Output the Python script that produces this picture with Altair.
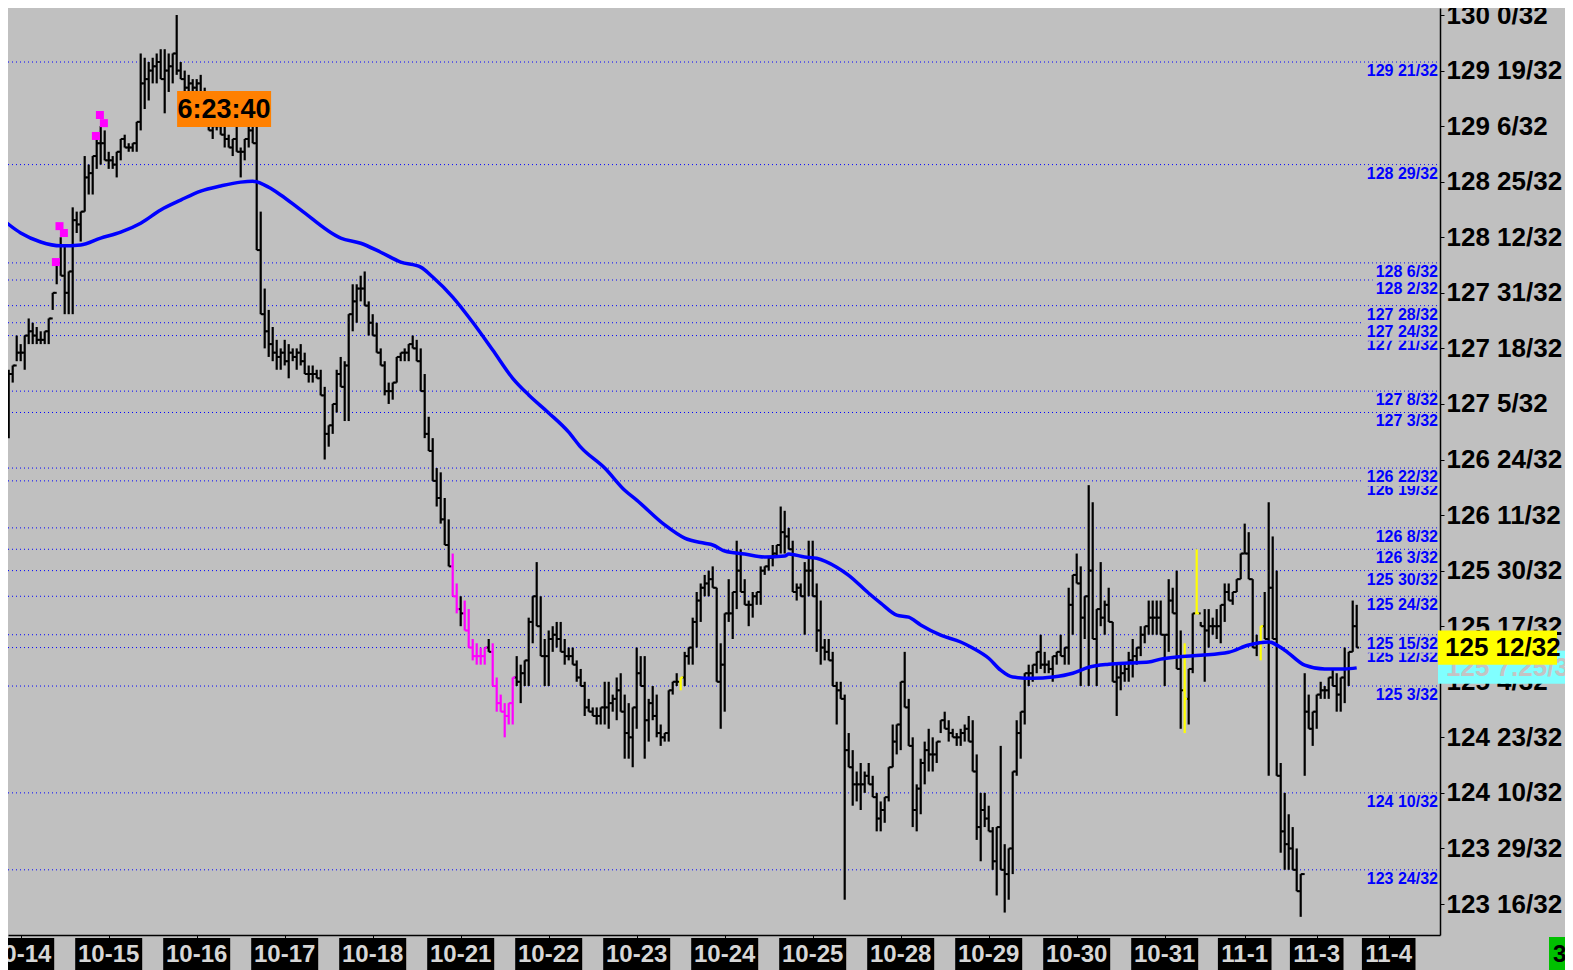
import altair as alt
import pandas as pd

# Prices are stored in 1/32nds above BASE (e.g. 76 -> 125 12/32)
BASE = 123

HIGH = [
    130, 129, 141, 142, 149, 147, 149, 153, 152, 151,
    150, 150, 153, 159, 166, 172, 170, 164, 179, 178,
    178, 191, 189, 191, 196, 198, 197, 192, 191, 192,
    195, 196, 194, 194, 199, 215, 214, 213, 214, 215,
    216, 216, 215, 215, 224, 213, 211, 210, 209, 209,
    210, 207, 205, 199, 200, 199, 198, 196, 195, 199,
    193, 195, 198, 199, 199, 178, 160, 155, 151, 148,
    146, 148, 147, 146, 146, 147, 145, 142, 142, 141,
    141, 137, 128, 133, 141, 144, 143, 154, 161, 161,
    163, 164, 157, 154, 152, 146, 143, 138, 138, 144,
    145, 146, 147, 149, 148, 146, 140, 130, 125, 118,
    117, 111, 106, 98, 91, 88, 87, 85, 78, 77,
    76, 76, 78, 77, 69, 65, 63, 63, 69, 74,
    72, 73, 83, 88, 96, 88, 78, 80, 81, 82,
    82, 78, 76, 76, 73, 71, 68, 64, 62, 62,
    62, 68, 68, 65, 69, 70, 65, 63, 62, 76,
    74, 74, 64, 67, 65, 58, 56, 66, 68, 70,
    69, 75, 76, 83, 89, 91, 93, 94, 95, 90,
    77, 84, 92, 89, 101, 99, 92, 87, 89, 89,
    95, 95, 97, 100, 100, 109, 108, 104, 101, 91,
    91, 96, 101, 101, 91, 87, 78, 78, 75, 68,
    68, 65, 56, 52, 47, 49, 47, 49, 46, 42,
    40, 41, 48, 58, 58, 68, 75, 64, 55, 44,
    50, 54, 57, 55, 54, 59, 61, 59, 57, 56,
    57, 58, 60, 59, 51, 42, 42, 39, 34, 34,
    53, 30, 29, 47, 59, 61, 70, 72, 72, 75,
    79, 75, 73, 74, 75, 79, 76, 90, 93, 98,
    95, 88, 114, 110, 85, 96, 87, 90, 82, 72,
    72, 72, 75, 78, 76, 81, 81, 87, 87, 87,
    87, 79, 92, 90, 94, 80, 77, 71, 84, 99,
    82, 85, 85, 83, 85, 86, 91, 91, 89, 92,
    98, 105, 103, 92, 79, 81, 89, 110, 102, 94,
    49, 42, 37, 34, 29, 23, 70, 65, 61, 65,
    68, 67, 69, 71, 70, 69, 76, 75, 87, 86,
]
LOW = [
    125, 127, 125, 138, 143, 143, 141, 147, 147, 147,
    147, 147, 147, 155, 161, 163, 154, 154, 154, 173,
    171, 178, 182, 182, 188, 189, 190, 188, 188, 186,
    190, 193, 192, 192, 192, 197, 202, 204, 208, 208,
    209, 201, 206, 208, 210, 209, 206, 204, 206, 205,
    205, 202, 197, 195, 197, 196, 193, 193, 191, 192,
    186, 190, 193, 194, 169, 154, 146, 144, 143, 141,
    141, 142, 139, 143, 141, 142, 140, 138, 138, 139,
    135, 120, 123, 126, 131, 137, 129, 129, 150, 152,
    157, 156, 149, 149, 145, 142, 135, 133, 134, 138,
    143, 143, 143, 146, 143, 136, 125, 122, 115, 109,
    105, 100, 95, 88, 84, 81, 80, 76, 73, 72,
    72, 72, 75, 67, 61, 61, 55, 58, 58, 67,
    63, 67, 67, 77, 81, 74, 67, 67, 75, 76,
    75, 72, 73, 72, 68, 67, 60, 61, 60, 58,
    58, 58, 57, 61, 59, 61, 50, 50, 48, 57,
    67, 50, 54, 59, 55, 53, 54, 54, 65, 67,
    66, 67, 72, 72, 76, 82, 88, 88, 90, 68,
    57, 61, 82, 78, 85, 89, 86, 81, 83, 86,
    86, 93, 94, 95, 97, 98, 98, 99, 89, 87,
    88, 79, 88, 88, 75, 72, 73, 73, 67, 58,
    64, 17, 48, 39, 40, 38, 42, 44, 41, 33,
    33, 35, 40, 48, 51, 52, 62, 53, 34, 33,
    37, 44, 47, 47, 49, 56, 57, 54, 55, 53,
    53, 54, 54, 47, 31, 26, 34, 33, 24, 18,
    24, 14, 17, 23, 46, 50, 58, 67, 68, 70,
    71, 70, 70, 68, 72, 74, 72, 72, 79, 91,
    67, 78, 67, 78, 67, 81, 79, 82, 68, 60,
    66, 68, 68, 69, 72, 74, 77, 79, 79, 79,
    79, 67, 75, 84, 71, 57, 56, 58, 70, 84,
    81, 68, 76, 79, 78, 77, 82, 87, 86, 89,
    92, 98, 92, 76, 74, 73, 78, 46, 78, 46,
    28, 24, 24, 24, 19, 13, 46, 57, 53, 57,
    64, 64, 64, 67, 61, 61, 63, 67, 75, 76,
]
CLOSE = [
    128, 129, 140, 142, 145, 145, 149, 150, 149, 148,
    148, 150, 153, 159, 166, 163, 159, 164, 176, 175,
    178, 186, 187, 191, 194, 194, 190, 190, 189, 192,
    195, 193, 193, 194, 199, 208, 209, 211, 212, 213,
    209, 211, 212, 215, 211, 209, 207, 208, 207, 208,
    205, 202, 197, 198, 198, 196, 195, 193, 195, 192,
    192, 195, 197, 194, 169, 154, 150, 147, 145, 144,
    145, 143, 145, 144, 145, 143, 140, 140, 140, 139,
    135, 126, 128, 133, 140, 137, 142, 154, 157, 160,
    160, 156, 152, 149, 145, 142, 136, 136, 138, 144,
    145, 145, 147, 146, 143, 136, 126, 122, 115, 111,
    106, 100, 95, 88, 85, 84, 80, 76, 74, 74,
    74, 76, 75, 67, 63, 61, 60, 63, 69, 68,
    70, 73, 82, 88, 81, 74, 74, 78, 79, 78,
    75, 74, 74, 72, 69, 67, 62, 61, 60, 60,
    62, 62, 63, 64, 66, 61, 56, 55, 62, 70,
    67, 59, 63, 60, 56, 55, 56, 66, 68, 68,
    69, 74, 76, 82, 87, 90, 91, 92, 90, 68,
    72, 84, 84, 89, 94, 89, 86, 86, 88, 89,
    94, 95, 97, 98, 100, 103, 102, 99, 89, 90,
    88, 94, 94, 88, 80, 76, 75, 73, 67, 66,
    64, 52, 48, 44, 44, 44, 46, 44, 41, 36,
    38, 41, 48, 54, 58, 68, 62, 53, 38, 43,
    49, 52, 51, 51, 54, 59, 57, 56, 55, 55,
    56, 57, 54, 47, 34, 38, 36, 33, 26, 34,
    24, 23, 29, 47, 56, 61, 70, 70, 72, 75,
    72, 72, 71, 74, 75, 74, 76, 86, 93, 91,
    83, 88, 94, 78, 85, 83, 86, 82, 68, 69,
    70, 71, 73, 74, 76, 79, 81, 83, 83, 83,
    79, 79, 87, 84, 71, 66, 64, 71, 84, 84,
    81, 80, 81, 81, 81, 86, 89, 87, 89, 92,
    98, 98, 92, 76, 77, 81, 78, 90, 78, 46,
    33, 30, 29, 24, 19, 23, 61, 57, 61, 65,
    66, 66, 69, 67, 65, 69, 71, 75, 81, 76,
]
FIRST_OPEN = 127
PINK_BARS = [113, 114, 116, 117, 118, 119, 120, 121, 123, 124, 125, 126, 127, 128]
YELLOW_BARS = [170, 296, 299, 315]

MA_IDX = [0, 5, 10, 15, 20, 25, 30, 35, 40, 45, 50, 55, 60, 63, 67, 70, 75, 85, 90, 95,
          100, 105, 108, 113, 118, 123, 128, 132, 137, 142, 145, 151, 156, 159, 166, 171,
          176, 178, 181, 186, 191, 196, 197, 201, 204, 209, 212, 217, 220, 224, 227, 230,
          235, 240, 243, 247, 250, 253, 258, 263, 268, 272, 277, 282, 287, 290, 294, 300,
          307, 312, 317, 321, 326, 331, 336, 339]
MA_VAL = [176.5, 173.0, 170.9, 170.0, 170.2, 171.8, 173.2, 175.3, 178.4, 180.7, 182.8, 184.0,
          184.9, 185.1, 183.7, 181.9, 178.4, 171.8, 170.6, 168.5, 166.2, 165.0, 162.7, 158.0,
          152.1, 145.6, 139.0, 135.1, 130.9, 126.4, 122.9, 118.0, 112.8, 110.5, 104.7, 101.6,
          100.4, 100.0, 98.6, 97.9, 97.2, 97.4, 97.9, 97.2, 96.9, 94.8, 92.9, 88.7, 86.4, 83.6,
          83.1, 81.3, 78.9, 77.3, 75.9, 73.5, 70.7, 69.1, 68.8, 69.1, 70.0, 71.4, 72.1, 72.4,
          72.6, 73.3, 73.8, 74.2, 74.9, 76.6, 77.3, 75.4, 71.9, 71.0, 71.0, 71.25]

SQ_IDX = [14.7, 15.8, 13.8, 24.8, 25.8, 23.8]
SQ_VAL = [174.6, 173.0, 166.2, 200.6, 198.7, 195.7]

DATE_LABELS = ["10-14", "10-15", "10-16", "10-17", "10-18", "10-21", "10-22", "10-23", "10-24",
               "10-25", "10-28", "10-29", "10-30", "10-31", "11-1", "11-3", "11-4"]
DATE_IDX = [5, 27, 49, 71, 93, 115, 137, 159, 181, 203, 225, 247, 269, 291, 311, 329, 347]

LEVELS = [213, 189, 166, 162, 156, 152, 149, 136, 131, 118, 115, 104, 99, 94, 88, 79, 76, 67, 42, 24]
AXIS_TICKS = [16, 29, 42, 55, 68, 81, 94, 107, 120, 133, 146, 159, 172, 185, 198, 211, 224]

LAST_PRICE = 76
MA_LAST = 71.25
TIMER_TEXT = "6:23:40"
TIMER_BOX = [44.1, 67.6, 206.2, 197.8]

# ---------------------------------------------------------------- layout
BG = "#c0c0c0"
W, H = 1432, 927
PX = 4.274  # pixels per 1/32
X_DOMAIN = [1.825, 359.825]
Y_DOMAIN = [8.75, 225.64]
FONT = "Liberation Sans"

xscale = alt.Scale(domain=X_DOMAIN, nice=False, zero=False)
yscale = alt.Scale(domain=Y_DOMAIN, nice=False, zero=False)
xaxis = alt.Axis(values=DATE_IDX, labels=False, ticks=True, tickSize=4, tickColor="black",
                 domainColor="black", domainWidth=1.5, grid=False, title="", orient="bottom")
yaxis = alt.Axis(orient="right", values=AXIS_TICKS,
                 labelExpr="floor(datum.value/32) + 123 + ' ' + (datum.value % 32) + '/32'",
                 labelFont=FONT, labelFontSize=26, labelFontWeight="bold", labelColor="black",
                 tickColor="black", tickSize=4, domainColor="black", domainWidth=1.5,
                 grid=False, title="", labelPadding=2, labelOverlap=False, labelFlush=False)


def X(f):
    return alt.X(f, type="quantitative", scale=xscale, axis=xaxis)


def Y(f):
    return alt.Y(f, type="quantitative", scale=yscale, axis=yaxis)


def fmt(p):
    return f"{BASE + int(p) // 32} {int(p) % 32}/32"


layers = []

# dotted horizontal levels
lev_df = pd.DataFrame({"p": LEVELS})
layers.append(alt.Chart(lev_df).mark_rule(color="#0000ff", strokeWidth=1, strokeDash=[1, 3]).encode(
    y=Y("p"), x=alt.value(0), x2=alt.value(W - 3)))

# level labels with background boxes (lower first so higher cover them)
cw = {" ": 4.45, "/": 4.45}
for p in sorted(LEVELS):
    lab = fmt(p)
    tw = sum(cw.get(c, 8.9) for c in lab)
    d = pd.DataFrame({"p": [p], "b1": [p - 2 / PX], "b2": [p - 18 / PX], "lab": [lab]})
    layers.append(alt.Chart(d).mark_rect(color=BG).encode(
        x=alt.value(W - 2 - tw - 3), x2=alt.value(W - 1), y=Y("b1"), y2=alt.Y2("b2")))
    layers.append(alt.Chart(d).mark_text(align="right", baseline="middle", dy=9, font=FONT,
                                         fontSize=16, fontWeight="bold", color="#0000ff").encode(
        x=alt.value(W - 2), y=Y("p"), text="lab:N"))

# OHLC bars
n = len(HIGH)
idx = list(range(n))
opens = [FIRST_OPEN] + CLOSE[:-1]
cols = ["#ff00ff" if i in PINK_BARS else ("#ffff00" if i in YELLOW_BARS else "#000000") for i in idx]
bars = pd.DataFrame({"i": idx, "h": HIGH, "l": LOW, "c": CLOSE, "o": opens, "col": cols})
bars["il"] = bars["i"] - 0.6
bars["ir"] = bars["i"] + 0.6
base = alt.Chart(bars)
layers.append(base.mark_rule(strokeWidth=2.2, clip=True).encode(
    x=X("i"), y=Y("l"), y2=alt.Y2("h"), color=alt.Color("col:N", scale=None)))
layers.append(base.mark_rule(strokeWidth=2, clip=True).encode(
    x=X("il"), x2=alt.X2("i"), y=Y("o"), color=alt.Color("col:N", scale=None)))
layers.append(base.mark_rule(strokeWidth=2, clip=True).encode(
    x=X("i"), x2=alt.X2("ir"), y=Y("c"), color=alt.Color("col:N", scale=None)))

# moving average
ma = pd.DataFrame({"i": MA_IDX, "v": MA_VAL})
layers.append(alt.Chart(ma).mark_line(color="#0000ff", strokeWidth=3.5, interpolate="monotone",
                                      clip=True).encode(x=X("i"), y=Y("v")))

# magenta signal squares
sq = pd.DataFrame({"i": SQ_IDX, "v": SQ_VAL})
layers.append(alt.Chart(sq).mark_square(size=64, color="#ff00ff", opacity=1, filled=True).encode(
    x=X("i"), y=Y("v")))

# timer box
tb = pd.DataFrame({"x1": [TIMER_BOX[0]], "x2": [TIMER_BOX[1]], "y1": [TIMER_BOX[2]],
                   "y2": [TIMER_BOX[3]], "xm": [(TIMER_BOX[0] + TIMER_BOX[1]) / 2],
                   "ym": [(TIMER_BOX[2] + TIMER_BOX[3]) / 2], "t": [TIMER_TEXT]})
layers.append(alt.Chart(tb).mark_rect(color="#ff8000").encode(
    x=X("x1"), x2=alt.X2("x2"), y=Y("y1"), y2=alt.Y2("y2")))
layers.append(alt.Chart(tb).mark_text(font=FONT, fontSize=27, fontWeight="bold", color="black",
                                      baseline="middle", align="center", dy=1).encode(
    x=X("xm"), y=Y("ym"), text="t:N"))

# date labels (black boxes below the axis)
dd = pd.DataFrame({"i": DATE_IDX, "lab": DATE_LABELS})
dd["hw"] = dd["lab"].str.len() * 13.4 / 8
dd["x1"] = dd["i"] - dd["hw"]
dd["x2"] = dd["i"] + dd["hw"]
layers.append(alt.Chart(dd).mark_rect(color="black").encode(
    x=X("x1"), x2=alt.X2("x2"), y=alt.value(H + 3), y2=alt.value(H + 36)))
layers.append(alt.Chart(dd).mark_text(font=FONT, fontSize=24, fontWeight="bold", color="#d6d6d6",
                                      baseline="middle", align="center").encode(
    x=X("i"), y=alt.value(H + 20), text="lab:N"))

# MA value tag (cyan) and last price tag (yellow)
cy = pd.DataFrame({"p": [MA_LAST], "y1": [MA_LAST + 4.0], "y2": [MA_LAST - 3.7],
                   "t": ["125 7.25/32"]})
layers.append(alt.Chart(cy).mark_rect(color="#80ffff").encode(
    x=alt.value(W - 2), x2=alt.value(W + 133), y=Y("y1"), y2=alt.Y2("y2")))
layers.append(alt.Chart(cy).mark_text(font=FONT, fontSize=26, fontWeight="bold", color="#c4c4c4",
                                      align="left", baseline="middle").encode(
    x=alt.value(W + 6), y=Y("p"), text="t:N"))

yl = pd.DataFrame({"p": [LAST_PRICE], "y1": [LAST_PRICE + 4.0], "y2": [LAST_PRICE - 4.0],
                   "t": [fmt(LAST_PRICE)]})
layers.append(alt.Chart(yl).mark_rect(color="#ffff00").encode(
    x=alt.value(W - 2), x2=alt.value(W + 117), y=Y("y1"), y2=alt.Y2("y2")))
layers.append(alt.Chart(yl).mark_text(font=FONT, fontSize=26, fontWeight="bold", color="black",
                                      align="left", baseline="middle").encode(
    x=alt.value(W + 5), y=Y("p"), text="t:N"))

# green counter box
gb = pd.DataFrame({"t": ["3"]})
layers.append(alt.Chart(gb).mark_rect(color="#00c000").encode(
    x=alt.value(W + 109), x2=alt.value(W + 133), y=alt.value(H + 2), y2=alt.value(H + 36)))
layers.append(alt.Chart(gb).mark_text(font=FONT, fontSize=24, fontWeight="bold", color="black",
                                      align="left", baseline="middle").encode(
    x=alt.value(W + 113), y=alt.value(H + 20), text="t:N"))

chart = alt.layer(*layers).properties(
    width=W, height=H,
    autosize=alt.AutoSizeParams(type="none"),
    padding={"left": 0, "top": 0, "right": 125, "bottom": 35},
).configure(background=BG).configure_view(strokeWidth=0)

chart.save("out.html", embed_options={"renderer": "svg", "actions": False})
